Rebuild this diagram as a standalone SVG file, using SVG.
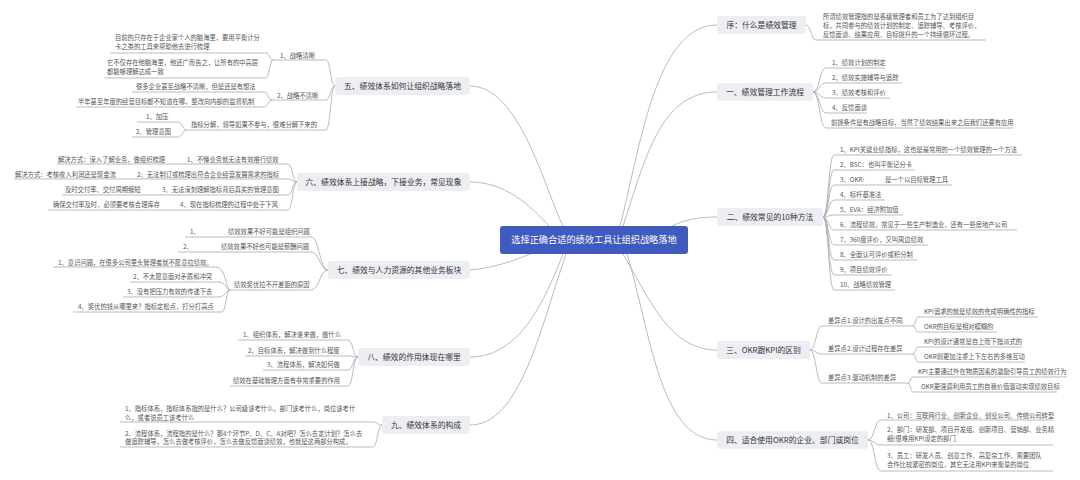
<svg xmlns="http://www.w3.org/2000/svg" width="1080" height="480" viewBox="0 0 1080 480">
<style>
.c{fill:none;stroke:#aaaaaa;stroke-width:0.8}
.b{fill:#eceef3}
.bt{font-family:"Noto Sans CJK SC","Noto Sans",sans-serif;font-size:7.8px;fill:#333}
.t{font-family:"Noto Sans CJK SC","Noto Sans",sans-serif;font-size:6.3px;fill:#555}
.m{text-anchor:middle}
</style>
<rect width="1080" height="480" fill="#ffffff"/>
<g id="connectors">
<!-- center to branches -->
<path class="c" d="M470 86 C520 86,545 190,563 226"/>
<path class="c" d="M470 182 C505 182,530 205,549 226"/>
<path class="c" d="M470 270 C495 268,515 260,530 254"/>
<path class="c" d="M470 357 C520 357,545 300,563 254"/>
<path class="c" d="M470 425 C520 425,540 330,566 254"/>
<path class="c" d="M620 226 C640 150,655 25,717 25"/>
<path class="c" d="M623 226 C645 160,660 92,717 92"/>
<path class="c" d="M672 226 C686 219,700 217,717 217"/>
<path class="c" d="M623 254 C650 300,670 350,717 350"/>
<path class="c" d="M627 254 C650 330,660 440,717 440"/>
<!-- 序 -->
<path class="c" d="M806 25 C811 25,811 40,816 40 H986"/>
<!-- 一 -->
<path class="c" d="M813 92 C819.5 92,819.5 68,826 68 H885"/>
<path class="c" d="M813 92 C819.5 92,819.5 83,826 83 H902"/>
<path class="c" d="M813 92 C819.5 92,819.5 98,826 98 H890"/>
<path class="c" d="M813 92 C819.5 92,819.5 113,826 113 H867"/>
<path class="c" d="M813 92 C819.5 92,819.5 128,826 128 H1013"/>
<!-- 二 -->
<path class="c" d="M823 217 C828.5 217,828.5 155,834 155 H1022"/>
<path class="c" d="M823 217 C828.5 217,828.5 170,834 170 H915"/>
<path class="c" d="M823 217 C828.5 217,828.5 185,834 185 H952"/>
<path class="c" d="M823 217 C828.5 217,828.5 200,834 200 H885"/>
<path class="c" d="M823 217 C828.5 217,828.5 215,834 215 H903"/>
<path class="c" d="M823 217 C828.5 217,828.5 230,834 230 H1017"/>
<path class="c" d="M823 217 C828.5 217,828.5 245,834 245 H928"/>
<path class="c" d="M823 217 C828.5 217,828.5 260,834 260 H917"/>
<path class="c" d="M823 217 C828.5 217,828.5 275,834 275 H892"/>
<path class="c" d="M823 217 C828.5 217,828.5 290,834 290 H895"/>
<!-- 三 -->
<path class="c" d="M810 350 C816 350,816 326,822 326 H913"/>
<path class="c" d="M810 350 C816 350,816 354,822 354 H913"/>
<path class="c" d="M810 350 C816 350,816 383,822 383 H908"/>
<path class="c" d="M913 326 C915.5 326,915.5 317,918 317 H1038"/>
<path class="c" d="M913 326 C915.5 326,915.5 332,918 332 H997"/>
<path class="c" d="M913 354 C915.5 354,915.5 347,918 347 H1022"/>
<path class="c" d="M913 354 C915.5 354,915.5 362,918 362 H1025"/>
<path class="c" d="M908 383 C910.5 383,910.5 377,913 377 H1067"/>
<path class="c" d="M908 383 C910.5 383,910.5 392,913 392 H1057"/>
<!-- 四 -->
<path class="c" d="M868 440 C874.5 440,874.5 420,881 420 H1053"/>
<path class="c" d="M868 440 C874.5 440,874.5 445,881 445 H1053"/>
<path class="c" d="M868 440 C874.5 440,874.5 471,881 471 H1053"/>
<!-- 五 -->
<path class="c" d="M335 86 C330.5 86,330.5 60,326 60 H273"/>
<path class="c" d="M335 86 C330.5 86,330.5 100,326 100 H272"/>
<path class="c" d="M335 86 C330.5 86,330.5 130,326 130 H187"/>
<path class="c" d="M273 60 C269.5 60,269.5 53,266 53 H110"/>
<path class="c" d="M273 60 C269.5 60,269.5 78,266 78 H105"/>
<path class="c" d="M272 100 C268 100,268 92,264 92 H132"/>
<path class="c" d="M272 100 C268 100,268 107,264 107 H76"/>
<path class="c" d="M187 130 C182.5 130,182.5 122,178 122 H137"/>
<path class="c" d="M187 130 C182.5 130,182.5 137,178 137 H132"/>
<!-- 六 -->
<path class="c" d="M297 182 C292.5 182,292.5 164,288 164 H57"/>
<path class="c" d="M297 182 C292.5 182,292.5 179,288 179 H14"/>
<path class="c" d="M297 182 C292.5 182,292.5 195,288 195 H62"/>
<path class="c" d="M297 182 C292.5 182,292.5 210,288 210 H48"/>
<!-- 七 -->
<path class="c" d="M328 270 C319.5 270,319.5 237,311 237 H185"/>
<path class="c" d="M328 270 C319.5 270,319.5 252,311 252 H178"/>
<path class="c" d="M328 270 C319.5 270,319.5 290,311 290 H230"/>
<path class="c" d="M230 290 C226 290,226 267,216 267 H53"/>
<path class="c" d="M230 290 C226 290,226 282,218 282 H130"/>
<path class="c" d="M230 290 C226 290,226 297,218 297 H123"/>
<path class="c" d="M230 290 C226 290,226 312,222 312 H73"/>
<!-- 八 -->
<path class="c" d="M358 357 C353 357,353 340,348 340 H238"/>
<path class="c" d="M358 357 C353 357,353 356,348 356 H245"/>
<path class="c" d="M358 357 C353 357,353 370,348 370 H263"/>
<path class="c" d="M358 357 C353 357,353 386,348 386 H230"/>
<!-- 九 -->
<path class="c" d="M382 425 C377.5 425,377.5 422,373 422 H120"/>
<path class="c" d="M382 425 C377.5 425,377.5 447,373 447 H120"/>
</g>

<g id="center">
<rect x="500" y="226" width="188" height="28" rx="3" fill="#3f5bbf"/>
<text x="594" y="243.3" class="m" font-family="Noto Sans CJK SC, sans-serif" font-size="9.2" fill="#ffffff">选择正确合适的绩效工具让组织战略落地</text>
</g>

<g id="xu">
<rect class="b" x="717" y="16" width="89" height="18" rx="3"/>
<text class="bt m" x="761.5" y="27.8">序：什么是绩效管理</text>
<text class="t" x="823" y="19">所谓绩效管理指的是各级管理者和员工为了达到组织目</text>
<text class="t" x="823" y="28">标，共同参与的绩效计划的制定、追踪辅导、考核评价、</text>
<text class="t" x="823" y="37">反馈面谈、结果应用、目标提升的一个持续循环过程。</text>
</g>

<g id="n1">
<rect class="b" x="717" y="83" width="96" height="18" rx="3"/>
<text class="bt m" x="765" y="94.8">一、绩效管理工作流程</text>
<text class="t" x="832" y="65">1、绩效计划的制定</text>
<text class="t" x="832" y="80">2、绩效实施辅导与追踪</text>
<text class="t" x="832" y="95">3、绩效考核和评价</text>
<text class="t" x="832" y="110">4、反馈面谈</text>
<text class="t" x="831" y="125">前提条件是有战略目标，当然了绩效结果出来之后我们还要有应用</text>
</g>

<g id="n2">
<rect class="b" x="717" y="208" width="106" height="18" rx="3"/>
<text class="bt m" x="770" y="219.8">二、绩效常见的10种方法</text>
<text class="t" x="840" y="152">1、KPI关键业绩指标，这也是最常用的一个绩效管理的一个方法</text>
<text class="t" x="840" y="167">2、BSC：也叫平衡记分卡</text>
<text class="t" x="840" y="182">3、OKR:</text>
<text class="t" x="885" y="182">是一个以目标管理工具</text>
<text class="t" x="840" y="197">4、标杆基准法</text>
<text class="t" x="840" y="212">5、EVA：经济附加值</text>
<text class="t" x="840" y="227">6、流程绩效，常见于一些生产制造业，还有一些房地产公司</text>
<text class="t" x="840" y="242">7、360度评价，又叫周边绩效</text>
<text class="t" x="840" y="257">8、全面认可评价或积分制</text>
<text class="t" x="840" y="272">9、项目绩效评价</text>
<text class="t" x="840" y="287">10、战略绩效管理</text>
</g>

<g id="n3">
<rect class="b" x="717" y="341" width="93" height="18" rx="3"/>
<text class="bt m" x="763.5" y="352.8">三、OKR跟KPI的区别</text>
<text class="t" x="828" y="323">差异点1.设计的出发点不同</text>
<text class="t" x="828" y="351">差异点2.设计过程存在差异</text>
<text class="t" x="828" y="380">差异点3.驱动机制的差异</text>
<text class="t" x="924" y="314">KPI追求的就是绩效的完成明确性的指标</text>
<text class="t" x="924" y="329">OKR的目标是相对模糊的</text>
<text class="t" x="924" y="344">KPI的设计通常是自上而下指派式的</text>
<text class="t" x="924" y="359">OKR则更加注重上下左右的多维互动</text>
<text class="t" x="918" y="374">KPI主要通过外在物质因素的激励引导员工的绩效行为</text>
<text class="t" x="921" y="389">OKR更强调利用员工的自我价值驱动实现绩效目标</text>
</g>

<g id="n4">
<rect class="b" x="717" y="431" width="151" height="18" rx="3"/>
<text class="bt m" x="792.5" y="442.8">四、适合使用OKR的企业、部门或岗位</text>
<text class="t" x="887" y="417.5">1、公司：互联网行业、创新企业、创业公司、传统公司转型</text>
<text class="t" x="887" y="432.3">2、部门：研发部、项目开发组、创新项目、营销部、业务精</text>
<text class="t" x="887" y="441">细(很难用KPI设定的部门</text>
<text class="t" x="887" y="458.3">3、员工：研发人员、创意工作、高复杂工作、需要团队</text>
<text class="t" x="887" y="467.3">合作比较紧密的岗位，其它无法用KPI来衡量的岗位</text>
</g>

<g id="n5">
<rect class="b" x="335" y="77" width="135" height="18" rx="3"/>
<text class="bt m" x="402.5" y="88.8">五、绩效体系如何让组织战略落地</text>
<text class="t" x="280" y="57.5">1、战略清晰</text>
<text class="t" x="115" y="40">目前的只存在于企业家个人的脑海里，要用平衡计分</text>
<text class="t" x="115" y="49">卡之类的工具来帮助他去进行梳理</text>
<text class="t" x="107" y="65">它不仅存在他脑海里，他还广而告之，让所有的中高层</text>
<text class="t" x="107" y="74">都能够理解达成一致</text>
<text class="t" x="277" y="97.5">2、战略不清晰</text>
<text class="t" x="136" y="89">很多企业甚至战略不清晰，但是还是有想法</text>
<text class="t" x="78" y="104">半年甚至年度的经营目标都不知道在哪，整改向内部的监督机制</text>
<text class="t" x="191" y="127">指标分解，领导如果不参与，很难分解下来的</text>
<text class="t" x="146" y="119">1、加压</text>
<text class="t" x="136" y="134">2、管理意图</text>
</g>

<g id="n6">
<rect class="b" x="297" y="173" width="173" height="18" rx="3"/>
<text class="bt m" x="383.5" y="184.8">六、绩效体系上接战略，下接业务，常见现象</text>
<text class="t" x="187" y="161.5">1、不懂业务就无法有效推行绩效</text>
<text class="t" x="58" y="161.5">解决方式：深入了解业务，做组织梳理</text>
<text class="t" x="137" y="176.5">2、无法制订或梳理出符合企业经营发展需求的指标</text>
<text class="t" x="15" y="176.5">解决方式：考核收入利润还是现金流</text>
<text class="t" x="162" y="192">3、无法深刻理解指标背后真实的管理意图</text>
<text class="t" x="65" y="192">及时交付率、交付周期缩短</text>
<text class="t" x="180" y="207">4、现在指标梳理的过程中处于下风</text>
<text class="t" x="53" y="207">确保交付率及时，必须要考核合理库存</text>
</g>

<g id="n7">
<rect class="b" x="328" y="261" width="142" height="18" rx="3"/>
<text class="bt m" x="399" y="272.8">七、绩效与人力资源的其他业务板块</text>
<text class="t" x="190" y="234">1、</text>
<text class="t" x="228" y="234">绩效效果不好可能是组织问题</text>
<text class="t" x="183" y="249">2、</text>
<text class="t" x="221" y="249">绩效效果不好也可能是薪酬问题</text>
<text class="t" x="234" y="287">绩效奖优拉不开差距的原因</text>
<text class="t" x="58" y="264.5">1、意识问题，在很多公司里头管理者就不愿意拉绩效。</text>
<text class="t" x="133" y="279">2、不太愿意面对矛盾和冲突</text>
<text class="t" x="127" y="294">3、没有把压力有效的传递下去</text>
<text class="t" x="78" y="309">4、奖优的钱从哪里来？指标定松点，打分打高点</text>
</g>

<g id="n8">
<rect class="b" x="358" y="348" width="112" height="18" rx="3"/>
<text class="bt m" x="414" y="359.8">八、绩效的作用体现在哪里</text>
<text class="t" x="243" y="337">1、组织体系，解决谁来做，做什么</text>
<text class="t" x="248" y="353">2、目标体系，解决做到什么程度</text>
<text class="t" x="267" y="367">3、流程体系，解决如何做</text>
<text class="t" x="233" y="383">绩效在基础管理方面有非常重要的作用</text>
</g>

<g id="n9">
<rect class="b" x="382" y="416" width="88" height="18" rx="3"/>
<text class="bt m" x="426" y="427.8">九、绩效体系的构成</text>
<text class="t" x="125" y="411">1、指标体系，指标体系指的是什么？公司级该考什么，部门该考什么，岗位该考什</text>
<text class="t" x="125" y="419.5">么，或者说员工该考什么</text>
<text class="t" x="125" y="435.5">2、流程体系，流程指的是什么？那4个环节P、D、C、A对吧？怎么去定计划？怎么去</text>
<text class="t" x="125" y="444">做追踪辅导，怎么去做考核评价，怎么去做反馈面谈绩效，也就是这两部分构成。</text>
</g>
</svg>
